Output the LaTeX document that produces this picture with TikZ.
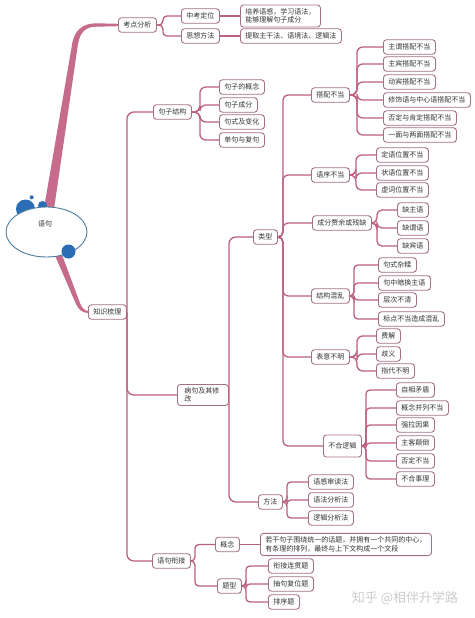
\documentclass[tikz,border=0pt]{standalone}
\usepackage{fontspec}
\setmainfont{Noto Sans CJK SC}
\usetikzlibrary{shapes.geometric}
\definecolor{connc}{RGB}{188,96,128}
\definecolor{boxc}{RGB}{165,112,138}
\definecolor{trunkc}{RGB}{199,107,140}
\definecolor{ellc}{RGB}{76,124,158}
\definecolor{bluec}{RGB}{43,109,180}
\definecolor{txt}{RGB}{50,50,50}
\definecolor{wmc}{RGB}{205,205,205}
\newcommand\mmbranch[3]{\draw[conn] (#1.east) -- ++(#3,0) |- (#2.west);}
\newcommand\mmtrunk[2]{\draw[conn,rounded corners=7pt] (#1.east) |- (#2.west);}
\begin{document}
\begin{tikzpicture}[x=1pt,y=-1pt,
  box/.style={draw=boxc, line width=0.9pt, rounded corners=3pt, fill=white, text=txt,
    font=\fontsize{7}{8.5}\selectfont, inner xsep=5pt, inner ysep=0pt,
    minimum height=14.5pt, anchor=west},
  conn/.style={draw=connc, line width=1.3pt, rounded corners=4pt},
]
\useasboundingbox[fill=white] (0,0) rectangle (474,618);

% thick main branches from the root
\fill[trunkc] (43,214) -- (72.5,42) .. controls (75,31) and (82,23.3) .. (96,23.3)
  -- (118,23.8) -- (118,26.2) -- (96,26.7) .. controls (86,26.7) and (80,32) .. (78,44)
  -- (53,216) -- cycle;
\fill[trunkc] (50,244) -- (76,304) .. controls (79,310.5) and (83,313) .. (89,313)
  -- (89,311) .. controls (85,311) and (82,308.5) .. (80,303) -- (57,241.5) -- cycle;

% decorative circles behind the ellipse
\fill[bluec] (25.5,209) circle (9.5pt);
\fill[bluec] (31.7,197.3) circle (2pt);
\fill[bluec] (42.5,205.5) circle (4.5pt);
\node[draw=ellc, fill=white, ellipse, line width=0.9pt, minimum width=81pt, minimum height=50pt] (root) at (46.5,232) {};
\fill[bluec] (68.5,251.5) circle (7pt);
\node[text=txt, font=\fontsize{7}{8}\selectfont] (rootlabel) at (45,224) {语句};

% level 1
\node[box] (kd) at (118,25) {考点分析};
\node[box] (zs) at (88,312) {知识梳理};

% 考点分析
\node[box] (zk) at (181,16) {中考定位};
\node[box] (sx) at (181,36) {思想方法};
\node[box, align=left, inner ysep=3.5pt] (zk1) at (240,16) {培养语感，学习语法，\\能够理解句子成分};
\node[box] (sx1) at (240,36) {提取主干法、语境法、逻辑法};

% 句子结构
\node[box] (jg) at (153,112) {句子结构};
\node[box] (jg1) at (219,87) {句子的概念};
\node[box] (jg2) at (219,105) {句子成分};
\node[box] (jg3) at (219,122) {句式及变化};
\node[box] (jg4) at (219,140) {单句与复句};

% 病句及其修改
\node[box, align=left, text width=37pt, inner xsep=7pt, inner ysep=3pt] (bj) at (177,395) {病句及其修\\改};
\node[box] (lx) at (253,237) {类型};
\node[box] (ff) at (258,502) {方法};

\node[box] (dp) at (311,95) {搭配不当};
\node[box] (yx) at (311,175) {语序不当};
\node[box] (cf) at (312,223) {成分赘余或残缺};
\node[box] (jh) at (311,296) {结构混乱};
\node[box] (by) at (311,357) {表意不明};
\node[box, minimum height=22pt] (bh) at (323,446) {不合逻辑};

\node[box] (dp1) at (383,47) {主谓搭配不当};
\node[box] (dp2) at (383,64) {主宾搭配不当};
\node[box] (dp3) at (383,82) {动宾搭配不当};
\node[box] (dp4) at (383,100) {修饰语与中心语搭配不当};
\node[box] (dp5) at (383,118) {否定与肯定搭配不当};
\node[box] (dp6) at (383,135) {一面与两面搭配不当};

\node[box] (yx1) at (376,155) {定语位置不当};
\node[box] (yx2) at (376,173) {状语位置不当};
\node[box] (yx3) at (376,190) {虚词位置不当};

\node[box] (cf1) at (397,210) {缺主语};
\node[box] (cf2) at (397,228) {缺谓语};
\node[box] (cf3) at (397,246) {缺宾语};

\node[box] (jh1) at (378,265) {句式杂糅};
\node[box] (jh2) at (378,283) {句中暗换主语};
\node[box] (jh3) at (378,300) {层次不清};
\node[box] (jh4) at (378,319) {标点不当造成混乱};

\node[box] (by1) at (376,336) {费解};
\node[box] (by2) at (376,354) {歧义};
\node[box] (by3) at (376,371) {指代不明};

\node[box] (bh1) at (396,390) {自相矛盾};
\node[box] (bh2) at (396,408) {概念并列不当};
\node[box] (bh3) at (396,425) {强拉因果};
\node[box] (bh4) at (396,443) {主客颠倒};
\node[box] (bh5) at (396,461) {否定不当};
\node[box] (bh6) at (396,479) {不合事理};

\node[box] (ff1) at (308,482) {语感审读法};
\node[box] (ff2) at (308,500) {语法分析法};
\node[box] (ff3) at (308,518) {逻辑分析法};

% 语句衔接
\node[box] (yj) at (152,561) {语句衔接};
\node[box] (gn) at (215,544.5) {概念};
\node[box] (tx) at (217,586) {题型};
\node[box, align=left, inner ysep=3.5pt] (gn1) at (260,544.5) {若干句子围绕统一的话题，并拥有一个共同的中心，\\有条理的排列，最终与上下文构成一个文段};
\node[box] (tx1) at (268,566) {衔接连贯题};
\node[box] (tx2) at (268,584) {抽句复位题};
\node[box] (tx3) at (268,602) {排序题};

% watermark
\node[text=wmc, font=\fontsize{13}{13}\selectfont] (wm) at (405,598) {知乎 @相伴升学路};

% connectors
\mmbranch{kd}{zk}{6}
\mmbranch{kd}{sx}{6}
\draw[conn] (zk.east) -- (zk1.west);
\draw[conn] (sx.east) -- (sx1.west);

\mmtrunk{zs}{jg}
\mmtrunk{zs}{bj}
\mmtrunk{zs}{yj}

\foreach \c in {jg1,jg2,jg3,jg4} {\draw[conn,rounded corners=6pt] (jg.east) -- ++(8,0) |- (\c.west);}

\mmtrunk{bj}{lx}
\mmtrunk{bj}{ff}

\foreach \c in {dp,yx,cf,jh,by,bh} {\draw[conn,rounded corners=5pt] (lx.east) -- ++(5,0) |- (\c.west);}
\foreach \c in {dp1,dp2,dp3,dp4,dp5,dp6} {\draw[conn,rounded corners=6pt] (dp.east) -- ++(7,0) |- (\c.west);}
\foreach \c in {yx1,yx2,yx3} {\draw[conn,rounded corners=6pt] (yx.east) -- ++(6,0) |- (\c.west);}
\foreach \c in {cf1,cf2,cf3} {\draw[conn,rounded corners=5pt] (cf.east) -- ++(5,0) |- (\c.west);}
\foreach \c in {jh1,jh2,jh3,jh4} {\mmbranch{jh}{\c}{4}}
\foreach \c in {by1,by2,by3} {\draw[conn,rounded corners=6pt] (by.east) -- ++(7,0) |- (\c.west);}
\foreach \c in {bh1,bh2,bh3,bh4,bh5,bh6} {\mmbranch{bh}{\c}{4}}
\foreach \c in {ff1,ff2,ff3} {\mmbranch{ff}{\c}{4}}

\mmbranch{yj}{gn}{4}
\mmbranch{yj}{tx}{4}
\draw[conn] (gn.east) -- (gn1.west);
\foreach \c in {tx1,tx2,tx3} {\mmbranch{tx}{\c}{4}}
\end{tikzpicture}
\end{document}
